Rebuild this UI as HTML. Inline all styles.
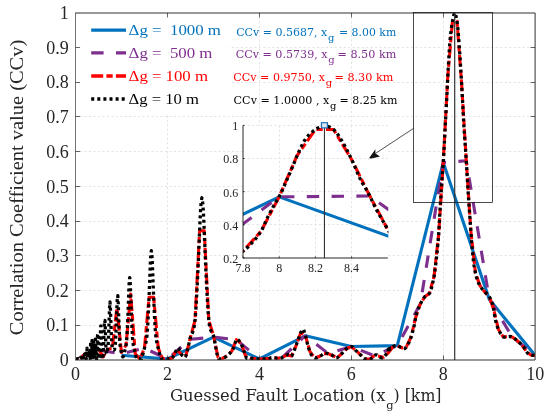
<!DOCTYPE html><html><head><meta charset="utf-8"><style>html,body{margin:0;padding:0;background:#fff;}svg{display:block;}</style></head><body><svg width="550" height="419" viewBox="0 0 550 419">
<defs><clipPath id="cm"><rect x="75.5" y="12.6" width="459.4" height="347.5"/></clipPath><clipPath id="ci"><rect x="243.0" y="118" width="145.3" height="140.0"/></clipPath></defs>
<rect width="550" height="419" fill="#fff"/>
<g stroke="#e4e4e4" stroke-width="1" stroke-dasharray="2.2 2.27" fill="none"><line x1="167.50" y1="12.6" x2="167.50" y2="360"/><line x1="259.50" y1="12.6" x2="259.50" y2="360"/><line x1="351.50" y1="12.6" x2="351.50" y2="360"/><line x1="443.50" y1="12.6" x2="443.50" y2="360"/><line x1="75.5" y1="325.50" x2="535" y2="325.50"/><line x1="75.5" y1="290.50" x2="535" y2="290.50"/><line x1="75.5" y1="255.50" x2="535" y2="255.50"/><line x1="75.5" y1="221.50" x2="535" y2="221.50"/><line x1="75.5" y1="186.50" x2="535" y2="186.50"/><line x1="75.5" y1="151.50" x2="535" y2="151.50"/><line x1="75.5" y1="116.50" x2="535" y2="116.50"/><line x1="75.5" y1="82.50" x2="535" y2="82.50"/><line x1="75.5" y1="47.50" x2="535" y2="47.50"/></g>
<g clip-path="url(#cm)" fill="none" stroke-linejoin="round">
<polyline points="121.47,355.24 167.44,359.00 213.41,337.17 259.38,359.00 305.35,335.78 351.32,346.54 397.29,345.62 443.26,162.53 489.23,299.31 535.20,355.54" stroke="#0072BD" stroke-width="3.1"/>
<polyline points="98.48,350.03 121.47,353.85 144.45,348.17 167.44,359.00 190.43,339.26 213.41,337.17 236.39,339.61 259.38,359.00 282.37,357.43 305.35,335.47" stroke="#7E2F8E" stroke-width="3.1" stroke-dasharray="12.4 12.4" stroke-dashoffset="20.84"/>
<polyline points="305.35,335.47 328.33,353.66 351.32,346.54 374.31,355.78 397.29,345.62 420.27,304.12 443.26,162.53" stroke="#7E2F8E" stroke-width="3.1" stroke-dasharray="12.4 12.4" stroke-dashoffset="10.75"/>
<polyline points="443.26,162.53 466.25,160.73 489.23,298.61 512.21,337.01 535.20,355.54" stroke="#7E2F8E" stroke-width="3.1" stroke-dasharray="12.4 12.4" stroke-dashoffset="9.60"/>
<polyline points="80.10,358.51 84.69,354.09 89.29,353.49 93.89,347.00 98.48,348.74 103.08,356.93 107.68,349.17 112.28,348.47 116.87,307.85 121.47,352.56 126.07,344.95 130.66,294.15 135.26,353.64 139.86,359.00 144.45,348.17 149.05,297.27 153.65,297.27 158.25,348.17 162.84,359.00 167.44,359.00 172.04,358.14 176.63,349.66 181.23,354.20 185.83,355.87 190.43,337.34 195.02,320.30 199.62,230.81 204.22,230.81 208.81,320.30 213.41,335.26 218.01,357.26 222.60,358.31 227.20,355.65 231.80,351.05 236.39,339.61 240.99,343.48 245.59,355.85 250.19,358.31 254.78,358.53 259.38,359.00 263.98,359.00 268.57,358.64 273.17,357.64 277.77,358.20 282.37,357.43 286.96,354.91 291.56,356.01 296.16,345.34 300.75,332.70 305.35,335.47 309.95,351.63 314.54,357.73 319.14,356.62 323.74,353.57 328.33,353.66 332.93,355.79 337.53,357.50 342.13,353.26 346.72,348.66 351.32,346.54 355.92,350.59 360.51,354.85 365.11,359.00 369.71,359.00 374.31,355.78 378.90,356.22 383.50,357.31 388.10,353.12 392.69,346.97 397.29,345.62 401.89,347.97 406.48,346.71 411.08,337.01 415.68,317.46 420.27,304.12 424.87,296.72 429.47,293.26 434.07,276.30 438.66,234.43 443.26,162.22 447.86,75.27 452.45,21.64 457.05,21.39 461.65,84.27 466.25,160.42 470.84,230.97 475.44,272.98 480.04,285.81 484.63,291.85 489.23,296.72 493.83,310.01 498.42,329.48 503.02,336.59 507.62,336.81 512.21,337.01 516.81,340.31 521.41,344.54 526.01,350.74 530.60,354.89 535.20,355.54" stroke="#FF0000" stroke-width="3.1" stroke-dasharray="12 3.2 6.3 3.2"/>
<polyline points="75.96,358.98 76.42,358.97 76.88,358.84 77.34,358.98 77.80,358.58 78.26,358.79 78.72,358.99 79.18,358.09 79.64,358.85 80.10,358.51 80.56,357.36 81.02,357.45 81.48,358.02 81.94,356.26 82.40,355.72 82.86,358.03 83.31,357.23 83.77,358.91 84.23,356.25 84.69,354.09 85.15,353.92 85.61,356.24 86.07,358.93 86.53,357.32 86.99,348.18 87.45,358.18 87.91,353.19 88.37,353.23 88.83,354.98 89.29,353.49 89.75,350.02 90.21,358.35 90.67,341.57 91.13,357.81 91.59,354.51 92.05,340.45 92.51,357.22 92.97,357.31 93.43,340.30 93.89,347.00 94.35,358.85 94.81,355.70 95.27,339.25 95.73,340.66 96.19,355.98 96.65,358.97 97.11,351.94 97.57,335.15 98.03,333.54 98.48,348.74 98.94,358.39 99.40,358.71 99.86,351.10 100.32,334.88 100.78,325.78 101.24,333.14 101.70,348.21 102.16,357.55 102.62,359.00 103.08,356.93 103.54,347.22 104.00,332.26 104.46,321.00 104.92,320.42 105.38,330.11 105.84,346.11 106.30,353.44 106.76,353.57 107.22,351.67 107.68,349.17 108.14,344.71 108.60,335.32 109.06,322.74 109.52,308.38 109.98,301.91 110.44,308.38 110.90,322.74 111.36,335.32 111.82,344.71 112.28,348.47 112.74,349.52 113.20,349.87 113.66,350.03 114.11,349.89 114.57,349.35 115.03,346.53 115.49,341.39 115.95,332.31 116.41,320.96 116.87,307.85 117.33,297.19 117.79,295.61 118.25,303.32 118.71,316.69 119.17,328.76 119.63,338.77 120.09,345.23 120.55,348.53 121.01,350.73 121.47,352.56 121.93,354.56 122.39,356.33 122.85,356.78 123.31,356.50 123.77,354.92 124.23,353.09 124.69,351.12 125.15,349.29 125.61,347.40 126.07,344.95 126.53,341.54 126.99,335.63 127.45,326.60 127.91,315.86 128.37,303.53 128.83,290.31 129.28,280.64 129.74,277.71 130.20,282.67 130.66,294.15 131.12,307.19 131.58,319.10 132.04,329.39 132.50,337.67 132.96,342.68 133.42,345.72 133.88,347.98 134.34,349.80 134.80,351.68 135.26,353.64 135.72,355.38 136.18,356.93 136.64,358.30 137.10,359.00 137.56,359.00 138.02,359.00 138.48,359.00 138.94,359.00 139.40,359.00 139.86,359.00 140.32,359.00 140.78,359.00 141.24,359.00 141.70,357.83 142.16,356.52 142.62,355.10 143.08,353.58 143.54,351.89 144.00,350.03 144.45,348.17 144.91,346.45 145.37,344.73 145.83,342.75 146.29,340.35 146.75,337.34 147.21,333.01 147.67,326.51 148.13,317.84 148.59,308.10 149.05,297.27 149.51,285.35 149.97,272.90 150.43,260.99 150.89,253.95 151.35,250.70 151.81,253.95 152.27,260.99 152.73,272.90 153.19,285.35 153.65,297.27 154.11,308.10 154.57,317.84 155.03,326.51 155.49,333.01 155.95,337.34 156.41,340.35 156.87,342.75 157.33,344.73 157.79,346.45 158.25,348.17 158.71,350.03 159.17,351.89 159.63,353.58 160.08,355.10 160.54,356.52 161.00,357.83 161.46,359.00 161.92,359.00 162.38,359.00 162.84,359.00 163.30,359.00 163.76,359.00 164.22,359.00 164.68,359.00 165.14,359.00 165.60,359.00 166.06,359.00 166.52,359.00 166.98,359.00 167.44,359.00 167.90,359.00 168.36,359.00 168.82,359.00 169.28,359.00 169.74,359.00 170.20,359.00 170.66,359.00 171.12,358.89 171.58,358.59 172.04,358.14 172.50,357.57 172.96,356.92 173.42,356.23 173.88,355.52 174.34,354.85 174.80,354.05 175.25,353.04 175.71,351.90 176.17,350.74 176.63,349.66 177.09,348.76 177.55,348.15 178.01,347.93 178.47,348.17 178.93,348.84 179.39,349.79 179.85,350.93 180.31,352.12 180.77,353.25 181.23,354.20 181.69,354.85 182.15,355.30 182.61,355.75 183.07,356.18 183.53,356.57 183.99,356.91 184.45,357.20 184.91,357.42 185.37,356.89 185.83,355.87 186.29,354.61 186.75,353.09 187.21,351.35 187.67,349.46 188.13,347.48 188.59,345.39 189.05,343.23 189.51,341.10 189.97,339.10 190.43,337.34 190.88,335.94 191.34,334.86 191.80,333.95 192.26,333.06 192.72,332.04 193.18,330.80 193.64,329.23 194.10,327.17 194.56,324.34 195.02,320.30 195.48,314.88 195.94,308.31 196.40,300.46 196.86,292.12 197.32,283.22 197.78,273.73 198.24,263.66 198.70,252.98 199.16,241.96 199.62,230.81 200.08,219.48 200.54,210.51 201.00,204.11 201.46,200.13 201.92,197.76 202.38,200.13 202.84,204.11 203.30,210.51 203.76,219.48 204.22,230.81 204.68,241.96 205.14,252.98 205.60,263.66 206.05,273.73 206.51,283.22 206.97,292.12 207.43,300.46 207.89,308.31 208.35,314.88 208.81,320.30 209.27,324.28 209.73,326.95 210.19,328.78 210.65,330.07 211.11,331.01 211.57,331.72 212.03,332.32 212.49,333.00 212.95,333.92 213.41,335.26 213.87,337.12 214.33,339.38 214.79,341.90 215.25,344.53 215.71,347.13 216.17,349.63 216.63,351.99 217.09,354.11 217.55,355.90 218.01,357.26 218.47,358.32 218.93,358.96 219.39,358.92 219.85,358.86 220.31,358.79 220.77,358.71 221.22,358.62 221.68,358.52 222.14,358.41 222.60,358.31 223.06,358.18 223.52,358.01 223.98,357.81 224.44,357.57 224.90,357.30 225.36,357.01 225.82,356.70 226.28,356.36 226.74,356.01 227.20,355.65 227.66,355.27 228.12,354.89 228.58,354.50 229.04,354.10 229.50,353.67 229.96,353.22 230.42,352.73 230.88,352.21 231.34,351.65 231.80,351.05 232.26,350.40 232.72,349.71 233.18,348.96 233.64,347.96 234.10,346.58 234.56,345.00 235.02,343.35 235.48,341.80 235.94,340.50 236.39,339.61 236.85,339.28 237.31,339.36 237.77,339.58 238.23,339.93 238.69,340.38 239.15,340.91 239.61,341.49 240.07,342.11 240.53,342.74 240.99,343.48 241.45,344.43 241.91,345.53 242.37,346.75 242.83,348.03 243.29,349.31 243.75,350.57 244.21,351.73 244.67,352.99 245.13,354.42 245.59,355.85 246.05,357.10 246.51,357.97 246.97,358.31 247.43,358.31 247.89,358.31 248.35,358.31 248.81,358.31 249.27,358.31 249.73,358.31 250.19,358.31 250.65,358.31 251.11,358.31 251.57,358.31 252.02,358.31 252.48,358.31 252.94,358.34 253.40,358.37 253.86,358.41 254.32,358.47 254.78,358.53 255.24,358.59 255.70,358.65 256.16,358.72 256.62,358.78 257.08,358.84 257.54,358.89 258.00,358.93 258.46,358.97 258.92,358.99 259.38,359.00 259.84,359.00 260.30,359.00 260.76,359.00 261.22,359.00 261.68,359.00 262.14,359.00 262.60,359.00 263.06,359.00 263.52,359.00 263.98,359.00 264.44,359.00 264.90,359.00 265.36,359.00 265.82,359.00 266.28,359.00 266.74,359.00 267.19,358.97 267.65,358.90 268.11,358.78 268.57,358.64 269.03,358.48 269.49,358.31 269.95,358.14 270.41,357.97 270.87,357.83 271.33,357.72 271.79,357.64 272.25,357.61 272.71,357.62 273.17,357.64 273.63,357.68 274.09,357.72 274.55,357.78 275.01,357.83 275.47,357.90 275.93,357.96 276.39,358.03 276.85,358.09 277.31,358.15 277.77,358.20 278.23,358.24 278.69,358.28 279.15,358.30 279.61,358.31 280.07,358.28 280.53,358.19 280.99,358.05 281.45,357.87 281.91,357.66 282.37,357.43 282.82,357.18 283.28,356.93 283.74,356.68 284.20,356.45 284.66,356.23 285.12,356.00 285.58,355.73 286.04,355.45 286.50,355.16 286.96,354.91 287.42,354.70 287.88,354.55 288.34,354.50 288.80,354.63 289.26,354.95 289.72,355.37 290.18,355.78 290.64,356.10 291.10,356.23 291.56,356.01 292.02,355.41 292.48,354.53 292.94,353.46 293.40,352.28 293.86,351.10 294.32,350.00 294.78,348.93 295.24,347.79 295.70,346.59 296.16,345.34 296.62,344.06 297.08,342.77 297.54,341.47 297.99,340.19 298.45,338.93 298.91,337.63 299.37,336.27 299.83,334.94 300.29,333.72 300.75,332.70 301.21,331.77 301.67,330.84 302.13,330.03 302.59,329.46 303.05,329.24 303.51,329.66 303.97,330.74 304.43,332.23 304.89,333.89 305.35,335.47 305.81,337.07 306.27,338.90 306.73,340.85 307.19,342.83 307.65,344.74 308.11,346.47 308.57,347.93 309.03,349.20 309.49,350.45 309.95,351.63 310.41,352.74 310.87,353.74 311.33,354.61 311.79,355.34 312.25,355.88 312.71,356.33 313.16,356.76 313.62,357.14 314.08,357.48 314.54,357.73 315.00,357.90 315.46,357.96 315.92,357.93 316.38,357.85 316.84,357.72 317.30,357.55 317.76,357.34 318.22,357.12 318.68,356.87 319.14,356.62 319.60,356.37 320.06,356.12 320.52,355.88 320.98,355.62 321.44,355.31 321.90,354.96 322.36,354.59 322.82,354.22 323.28,353.87 323.74,353.57 324.20,353.33 324.66,353.17 325.12,353.12 325.58,353.13 326.04,353.17 326.50,353.23 326.96,353.31 327.42,353.41 327.88,353.53 328.33,353.66 328.79,353.81 329.25,353.97 329.71,354.13 330.17,354.31 330.63,354.48 331.09,354.67 331.55,354.85 332.01,355.08 332.47,355.40 332.93,355.79 333.39,356.20 333.85,356.63 334.31,357.04 334.77,357.40 335.23,357.69 335.69,357.89 336.15,357.96 336.61,357.91 337.07,357.75 337.53,357.50 337.99,357.19 338.45,356.81 338.91,356.39 339.37,355.95 339.83,355.48 340.29,355.02 340.75,354.57 341.21,354.15 341.67,353.73 342.13,353.26 342.59,352.75 343.05,352.23 343.51,351.69 343.96,351.16 344.42,350.64 344.88,350.15 345.34,349.70 345.80,349.30 346.26,348.96 346.72,348.66 347.18,348.35 347.64,348.05 348.10,347.75 348.56,347.47 349.02,347.22 349.48,346.99 349.94,346.81 350.40,346.66 350.86,346.57 351.32,346.54 351.78,346.61 352.24,346.81 352.70,347.12 353.16,347.51 353.62,347.97 354.08,348.48 354.54,349.01 355.00,349.56 355.46,350.09 355.92,350.59 356.38,351.04 356.84,351.46 357.30,351.88 357.76,352.30 358.22,352.73 358.68,353.15 359.13,353.58 359.59,354.00 360.05,354.43 360.51,354.85 360.97,355.30 361.43,355.81 361.89,356.36 362.35,356.91 362.81,357.45 363.27,357.94 363.73,358.37 364.19,358.70 364.65,358.92 365.11,359.00 365.57,359.00 366.03,359.00 366.49,359.00 366.95,359.00 367.41,359.00 367.87,359.00 368.33,359.00 368.79,359.00 369.25,359.00 369.71,359.00 370.17,359.00 370.63,358.93 371.09,358.73 371.55,358.44 372.01,358.06 372.47,357.63 372.93,357.16 373.39,356.68 373.85,356.22 374.31,355.78 374.76,355.41 375.22,355.11 375.68,354.92 376.14,354.85 376.60,354.90 377.06,355.05 377.52,355.27 377.98,355.55 378.44,355.87 378.90,356.22 379.36,356.58 379.82,356.93 380.28,357.26 380.74,357.54 381.20,357.76 381.66,357.91 382.12,357.96 382.58,357.88 383.04,357.65 383.50,357.31 383.96,356.87 384.42,356.36 384.88,355.82 385.34,355.26 385.80,354.72 386.26,354.21 386.72,353.77 387.18,353.43 387.64,353.20 388.10,353.12 388.56,346.17 389.02,347.02 389.48,348.17 389.93,349.07 390.39,349.15 390.85,348.65 391.31,348.18 391.77,347.74 392.23,347.34 392.69,346.97 393.15,346.64 393.61,346.35 394.07,346.10 394.53,345.89 394.99,345.72 395.45,345.60 395.91,345.53 396.37,345.50 396.83,345.54 397.29,345.62 397.75,345.76 398.21,345.94 398.67,346.15 399.13,346.39 399.59,346.65 400.05,346.92 400.51,347.20 400.97,347.47 401.43,347.73 401.89,347.97 402.35,348.18 402.81,348.36 403.27,348.50 403.73,348.59 404.19,348.62 404.65,348.53 405.10,348.27 405.56,347.87 406.02,347.34 406.48,346.71 406.94,346.00 407.40,345.22 407.86,344.40 408.32,343.57 408.78,342.74 409.24,341.84 409.70,340.81 410.16,339.65 410.62,338.38 411.08,337.01 411.54,335.54 412.00,333.99 412.46,332.37 412.92,330.68 413.38,328.94 413.84,327.17 414.30,325.10 414.76,322.65 415.22,320.04 415.68,317.46 416.14,315.15 416.60,313.33 417.06,311.87 417.52,310.52 417.98,309.26 418.44,308.10 418.90,307.01 419.36,305.99 419.82,305.03 420.27,304.12 420.73,303.24 421.19,302.39 421.65,301.56 422.11,300.74 422.57,299.95 423.03,299.19 423.49,298.48 423.95,297.82 424.41,297.23 424.87,296.72 425.33,296.29 425.79,295.94 426.25,295.64 426.71,295.37 427.17,295.12 427.63,294.85 428.09,294.55 428.55,294.20 429.01,293.78 429.47,293.26 429.93,292.53 430.39,291.52 430.85,290.25 431.31,288.75 431.77,287.04 432.23,285.15 432.69,283.11 433.15,280.93 433.61,278.66 434.07,276.30 434.53,273.59 434.99,270.33 435.45,266.66 435.90,262.72 436.36,258.66 436.82,254.51 437.28,250.16 437.74,245.45 438.20,240.26 438.66,234.43 439.12,227.11 439.58,218.52 440.04,210.21 440.50,202.62 440.96,195.20 441.42,188.01 441.88,181.09 442.34,174.65 442.80,168.69 443.26,162.22 443.72,154.65 444.18,146.31 444.64,137.60 445.10,128.88 445.56,120.36 446.02,111.77 446.48,103.01 446.94,93.77 447.40,84.19 447.86,75.27 448.32,66.97 448.78,58.80 449.24,51.15 449.70,44.40 450.16,38.94 450.62,34.51 451.07,30.58 451.53,27.14 451.99,24.16 452.45,21.64 452.91,19.26 453.37,16.93 453.83,14.93 454.29,13.52 454.75,12.70 455.21,13.47 455.67,14.79 456.13,16.73 456.59,19.08 457.05,21.64 457.51,25.03 457.97,29.72 458.43,35.32 458.89,41.42 459.35,47.59 459.81,54.04 460.27,61.12 460.73,68.63 461.19,76.41 461.65,84.27 462.11,92.51 462.57,101.29 463.03,110.23 463.49,118.92 463.95,126.97 464.41,133.96 464.87,140.02 465.33,146.43 465.79,153.25 466.25,160.42 466.70,168.27 467.16,176.49 467.62,184.26 468.08,191.27 468.54,197.89 469.00,204.35 469.46,210.91 469.92,217.68 470.38,224.46 470.84,230.97 471.30,237.37 471.76,243.63 472.22,249.28 472.68,254.00 473.14,258.27 473.60,262.14 474.06,265.53 474.52,268.34 474.98,270.76 475.44,272.98 475.90,275.01 476.36,276.84 476.82,278.48 477.28,279.91 477.74,281.15 478.20,282.23 478.66,283.24 479.12,284.16 479.58,285.01 480.04,285.81 480.50,286.55 480.96,287.25 481.42,287.92 481.87,288.56 482.33,289.18 482.79,289.80 483.25,290.38 483.71,290.91 484.17,291.39 484.63,291.85 485.09,292.27 485.55,292.69 486.01,293.10 486.47,293.52 486.93,293.95 487.39,294.41 487.85,294.91 488.31,295.45 488.77,296.05 489.23,296.72 489.69,297.46 490.15,298.27 490.61,299.18 491.07,300.19 491.53,301.30 491.99,302.53 492.45,303.88 492.91,305.37 493.37,307.36 493.83,310.01 494.29,313.00 494.75,316.03 495.21,318.78 495.67,320.94 496.13,322.64 496.59,324.25 497.04,325.74 497.50,327.11 497.96,328.36 498.42,329.48 498.88,330.47 499.34,331.32 499.80,332.09 500.26,332.87 500.72,333.62 501.18,334.34 501.64,335.01 502.10,335.62 502.56,336.15 503.02,336.59 503.48,336.92 503.94,337.13 504.40,337.20 504.86,337.19 505.32,337.16 505.78,337.11 506.24,337.04 506.70,336.97 507.16,336.89 507.62,336.81 508.08,336.74 508.54,336.66 509.00,336.60 509.46,336.55 509.92,336.52 510.38,336.51 510.84,336.54 511.30,336.64 511.76,336.80 512.21,337.01 512.67,337.26 513.13,337.55 513.59,337.86 514.05,338.20 514.51,338.56 514.97,338.92 515.43,339.28 515.89,339.63 516.35,339.97 516.81,340.31 517.27,340.66 517.73,341.04 518.19,341.43 518.65,341.83 519.11,342.26 519.57,342.69 520.03,343.14 520.49,343.59 520.95,344.06 521.41,344.54 521.87,345.03 522.33,345.53 522.79,346.03 523.25,346.54 523.71,347.10 524.17,347.75 524.63,348.45 525.09,349.20 525.55,349.97 526.01,350.74 526.47,351.50 526.93,352.21 527.39,352.87 527.84,353.45 528.30,353.92 528.76,354.28 529.22,354.50 529.68,354.64 530.14,354.77 530.60,354.89 531.06,355.01 531.52,355.11 531.98,355.21 532.44,355.29 532.90,355.36 533.36,355.42 533.82,355.47 534.28,355.51 534.74,355.53 535.20,355.54" stroke="#000" stroke-width="3.3" stroke-dasharray="3 3.1"/>
</g>
<line x1="454.7" y1="12.6" x2="454.7" y2="360" stroke="#333" stroke-width="1.2"/>
<rect x="76.5" y="13.5" width="152.5" height="100.5" fill="#fff"/>
<rect x="243.0" y="125.3" width="144.8" height="132.7" fill="#fff"/>
<path d="M75.5,13 H535.1 V360 H75.5" fill="none" stroke="#262626" stroke-width="0.95"/>
<path d="M75.5,12.6 V360.4" fill="none" stroke="#262626" stroke-width="0.65"/>
<g stroke="#262626" stroke-width="0.7" fill="none"><line x1="167.50" y1="360" x2="167.50" y2="355.4"/><line x1="167.50" y1="13" x2="167.50" y2="17.4"/><line x1="259.50" y1="360" x2="259.50" y2="355.4"/><line x1="259.50" y1="13" x2="259.50" y2="17.4"/><line x1="351.50" y1="360" x2="351.50" y2="355.4"/><line x1="351.50" y1="13" x2="351.50" y2="17.4"/><line x1="443.50" y1="360" x2="443.50" y2="355.4"/><line x1="443.50" y1="13" x2="443.50" y2="17.4"/><line x1="75.5" y1="325.50" x2="80.1" y2="325.50"/><line x1="535.1" y1="325.50" x2="530.5" y2="325.50"/><line x1="75.5" y1="290.50" x2="80.1" y2="290.50"/><line x1="535.1" y1="290.50" x2="530.5" y2="290.50"/><line x1="75.5" y1="255.50" x2="80.1" y2="255.50"/><line x1="535.1" y1="255.50" x2="530.5" y2="255.50"/><line x1="75.5" y1="221.50" x2="80.1" y2="221.50"/><line x1="535.1" y1="221.50" x2="530.5" y2="221.50"/><line x1="75.5" y1="186.50" x2="80.1" y2="186.50"/><line x1="535.1" y1="186.50" x2="530.5" y2="186.50"/><line x1="75.5" y1="151.50" x2="80.1" y2="151.50"/><line x1="535.1" y1="151.50" x2="530.5" y2="151.50"/><line x1="75.5" y1="116.50" x2="80.1" y2="116.50"/><line x1="535.1" y1="116.50" x2="530.5" y2="116.50"/><line x1="75.5" y1="82.50" x2="80.1" y2="82.50"/><line x1="535.1" y1="82.50" x2="530.5" y2="82.50"/><line x1="75.5" y1="47.50" x2="80.1" y2="47.50"/><line x1="535.1" y1="47.50" x2="530.5" y2="47.50"/></g>
<rect x="413.5" y="12.6" width="79" height="189.9" fill="none" stroke="#111" stroke-width="0.75"/>
<line x1="413.35" y1="128.5" x2="375.4" y2="153.5" stroke="#222" stroke-width="0.8"/>
<path d="M368.3,159.3 L375.4,149.3 L375.4,153.6 L380.0,156.5 Z" fill="#111"/>
<g stroke="#e4e4e4" stroke-width="1" stroke-dasharray="2.2 2.27" fill="none"><line x1="279.50" y1="125.3" x2="279.50" y2="258.0"/><line x1="315.50" y1="125.3" x2="315.50" y2="258.0"/><line x1="351.50" y1="125.3" x2="351.50" y2="258.0"/><line x1="243.0" y1="224.50" x2="387.8" y2="224.50"/><line x1="243.0" y1="191.50" x2="387.8" y2="191.50"/><line x1="243.0" y1="158.50" x2="387.8" y2="158.50"/><line x1="243.0" y1="125.50" x2="387.8" y2="125.50"/></g>
<g clip-path="url(#ci)" fill="none" stroke-linejoin="round">
<polyline points="98.20,284.26 279.20,196.84 460.20,262.15" stroke="#0072BD" stroke-width="3.1"/>
<polyline points="188.70,264.45 279.20,196.84 369.70,195.98 460.20,261.82" stroke="#7E2F8E" stroke-width="3.1" stroke-dasharray="12.4 12.4" stroke-dashoffset="8.24"/>
<polyline points="224.90,259.26 243.00,251.16 261.10,231.17 279.20,196.69 297.30,155.18 315.40,129.57 333.50,129.45 351.60,159.47 369.70,195.83 387.80,229.52 405.90,249.58" stroke="#FF0000" stroke-width="3.1" stroke-dasharray="12 3.2 6.3 3.2"/>
<polyline points="224.90,259.26 226.71,258.91 228.52,258.43 230.33,257.82 232.14,257.11 233.95,256.29 235.76,255.39 237.57,254.41 239.38,253.37 241.19,252.29 243.00,251.16 244.81,249.87 246.62,248.31 248.43,246.56 250.24,244.68 252.05,242.74 253.86,240.76 255.67,238.68 257.48,236.43 259.29,233.95 261.10,231.17 262.91,227.68 264.72,223.58 266.53,219.61 268.34,215.98 270.15,212.44 271.96,209.01 273.77,205.70 275.58,202.63 277.39,199.78 279.20,196.69 281.01,193.08 282.82,189.10 284.63,184.93 286.44,180.77 288.25,176.71 290.06,172.61 291.87,168.42 293.68,164.01 295.49,159.43 297.30,155.18 299.11,151.21 300.92,147.31 302.73,143.66 304.54,140.44 306.35,137.83 308.16,135.71 309.97,133.84 311.78,132.19 313.59,130.77 315.40,129.57 317.21,128.43 319.02,127.32 320.83,126.36 322.64,125.69 324.45,125.30 326.26,125.67 328.07,126.30 329.88,127.22 331.69,128.35 333.50,129.57 335.31,131.19 337.12,133.43 338.93,136.10 340.74,139.01 342.55,141.96 344.36,145.04 346.17,148.42 347.98,152.01 349.79,155.72 351.60,159.47 353.41,163.41 355.22,167.60 357.03,171.87 358.84,176.02 360.65,179.86 362.46,183.20 364.27,186.09 366.08,189.15 367.89,192.41 369.70,195.83 371.51,199.58 373.32,203.51 375.13,207.22 376.94,210.56 378.75,213.72 380.56,216.81 382.37,219.94 384.18,223.17 385.99,226.41 387.80,229.52 389.61,232.57 391.42,235.56 393.23,238.26 395.04,240.51 396.85,242.55 398.66,244.40 400.47,246.02 402.28,247.36 404.09,248.52 405.90,249.58" stroke="#000" stroke-width="3.3" stroke-dasharray="3 3.1"/>
</g>
<line x1="324.45" y1="127.30" x2="324.45" y2="258.0" stroke="#333" stroke-width="1.1"/>
<rect x="321.45" y="122.70" width="6" height="5.2" fill="#d4e6f4" stroke="#1f6fb2" stroke-width="1.2"/>
<g stroke="#262626" stroke-width="1.0" fill="none"><path d="M243.0,125.3 V258.0 H387.8"/><line x1="243.0" y1="258.00" x2="244.5" y2="258.00"/><line x1="243.0" y1="224.82" x2="244.5" y2="224.82"/><line x1="243.0" y1="191.65" x2="244.5" y2="191.65"/><line x1="243.0" y1="158.47" x2="244.5" y2="158.47"/><line x1="243.0" y1="125.30" x2="244.5" y2="125.30"/><line x1="243.00" y1="258.0" x2="243.00" y2="256.5"/><line x1="279.20" y1="258.0" x2="279.20" y2="256.5"/><line x1="315.40" y1="258.0" x2="315.40" y2="256.5"/><line x1="351.60" y1="258.0" x2="351.60" y2="256.5"/></g>
<text x="68.8" y="366.20" font-family="'Liberation Serif', serif" font-size="18" fill="#262626" text-anchor="end">0</text>
<text x="68.8" y="331.46" font-family="'Liberation Serif', serif" font-size="18" fill="#262626" text-anchor="end">0.1</text>
<text x="68.8" y="296.72" font-family="'Liberation Serif', serif" font-size="18" fill="#262626" text-anchor="end">0.2</text>
<text x="68.8" y="261.98" font-family="'Liberation Serif', serif" font-size="18" fill="#262626" text-anchor="end">0.3</text>
<text x="68.8" y="227.24" font-family="'Liberation Serif', serif" font-size="18" fill="#262626" text-anchor="end">0.4</text>
<text x="68.8" y="192.50" font-family="'Liberation Serif', serif" font-size="18" fill="#262626" text-anchor="end">0.5</text>
<text x="68.8" y="157.76" font-family="'Liberation Serif', serif" font-size="18" fill="#262626" text-anchor="end">0.6</text>
<text x="68.8" y="123.02" font-family="'Liberation Serif', serif" font-size="18" fill="#262626" text-anchor="end">0.7</text>
<text x="68.8" y="88.28" font-family="'Liberation Serif', serif" font-size="18" fill="#262626" text-anchor="end">0.8</text>
<text x="68.8" y="53.54" font-family="'Liberation Serif', serif" font-size="18" fill="#262626" text-anchor="end">0.9</text>
<text x="68.8" y="18.80" font-family="'Liberation Serif', serif" font-size="18" fill="#262626" text-anchor="end">1</text>
<text x="75.50" y="379.9" font-family="'Liberation Serif', serif" font-size="18" fill="#262626" text-anchor="middle">0</text>
<text x="167.44" y="379.9" font-family="'Liberation Serif', serif" font-size="18" fill="#262626" text-anchor="middle">2</text>
<text x="259.38" y="379.9" font-family="'Liberation Serif', serif" font-size="18" fill="#262626" text-anchor="middle">4</text>
<text x="351.32" y="379.9" font-family="'Liberation Serif', serif" font-size="18" fill="#262626" text-anchor="middle">6</text>
<text x="443.26" y="379.9" font-family="'Liberation Serif', serif" font-size="18" fill="#262626" text-anchor="middle">8</text>
<text x="535.20" y="379.9" font-family="'Liberation Serif', serif" font-size="18" fill="#262626" text-anchor="middle">10</text>
<text x="238.2" y="130.30" font-family="'Liberation Serif', serif" font-size="12" fill="#262626" text-anchor="end">1</text>
<text x="238.2" y="163.47" font-family="'Liberation Serif', serif" font-size="12" fill="#262626" text-anchor="end">0.8</text>
<text x="238.2" y="196.65" font-family="'Liberation Serif', serif" font-size="12" fill="#262626" text-anchor="end">0.6</text>
<text x="238.2" y="229.82" font-family="'Liberation Serif', serif" font-size="12" fill="#262626" text-anchor="end">0.4</text>
<text x="238.2" y="263.00" font-family="'Liberation Serif', serif" font-size="12" fill="#262626" text-anchor="end">0.2</text>
<text x="243.00" y="272.3" font-family="'Liberation Serif', serif" font-size="12" fill="#262626" text-anchor="middle">7.8</text>
<text x="279.20" y="272.3" font-family="'Liberation Serif', serif" font-size="12" fill="#262626" text-anchor="middle">8</text>
<text x="315.40" y="272.3" font-family="'Liberation Serif', serif" font-size="12" fill="#262626" text-anchor="middle">8.2</text>
<text x="351.60" y="272.3" font-family="'Liberation Serif', serif" font-size="12" fill="#262626" text-anchor="middle">8.4</text>
<text x="170.0" y="401.3" font-family="'DejaVu Serif', serif" font-size="16.0" fill="#262626" xml:space="preserve" textLength="215.5" lengthAdjust="spacingAndGlyphs">Guessed Fault Location (x</text>
<text x="386.2" y="408.8" font-family="'DejaVu Serif', serif" font-size="11.5" fill="#262626" xml:space="preserve">g</text>
<text x="393.5" y="401.3" font-family="'DejaVu Serif', serif" font-size="16.0" fill="#262626" xml:space="preserve" textLength="48.0" lengthAdjust="spacingAndGlyphs">) [km]</text>
<text transform="translate(22.8,335.2) rotate(-90)" font-family="'Liberation Serif', serif" font-size="19.8" fill="#262626" textLength="295.5" lengthAdjust="spacingAndGlyphs">Correlation Coefficient value (CCv)</text>
<line x1="91.2" y1="30.2" x2="126" y2="30.2" stroke="#0072BD" stroke-width="3.3"/>
<text x="128.6" y="35.2" font-family="'Liberation Serif', serif" font-size="13.8" fill="#0072BD" xml:space="preserve" textLength="92.4" lengthAdjust="spacingAndGlyphs">Δg =  1000 m</text>
<line x1="91.2" y1="52.8" x2="126" y2="52.8" stroke="#7E2F8E" stroke-width="3.3" stroke-dasharray="12.4 12.4"/>
<text x="128.6" y="57.8" font-family="'Liberation Serif', serif" font-size="13.8" fill="#7E2F8E" xml:space="preserve" textLength="83.8" lengthAdjust="spacingAndGlyphs">Δg =  500 m</text>
<line x1="91.2" y1="76.0" x2="126" y2="76.0" stroke="#FF0000" stroke-width="3.3" stroke-dasharray="12 3.2 6.3 3.2"/>
<text x="128.6" y="81.0" font-family="'Liberation Serif', serif" font-size="13.8" fill="#FF0000" xml:space="preserve" textLength="79.4" lengthAdjust="spacingAndGlyphs">Δg = 100 m</text>
<line x1="91.2" y1="99.0" x2="126" y2="99.0" stroke="#000" stroke-width="3.3" stroke-dasharray="3 3.1"/>
<text x="128.6" y="104.0" font-family="'Liberation Serif', serif" font-size="13.8" fill="#000" xml:space="preserve" textLength="70.4" lengthAdjust="spacingAndGlyphs">Δg = 10 m</text>
<text x="236.2" y="35.7" font-family="'DejaVu Serif', serif" font-size="11.3" fill="#0072BD" xml:space="preserve" textLength="91.1" lengthAdjust="spacingAndGlyphs">CCv = 0.5687, x</text>
<text x="328.0" y="40.7" font-family="'DejaVu Serif', serif" font-size="10.0" fill="#0072BD" xml:space="preserve">g</text>
<text x="339.0" y="35.7" font-family="'DejaVu Serif', serif" font-size="11.3" fill="#0072BD" xml:space="preserve" textLength="57.3" lengthAdjust="spacingAndGlyphs">= 8.00 km</text>
<text x="235.7" y="58.1" font-family="'DejaVu Serif', serif" font-size="11.3" fill="#7E2F8E" xml:space="preserve" textLength="91.9" lengthAdjust="spacingAndGlyphs">CCv = 0.5739, x</text>
<text x="328.2" y="63.1" font-family="'DejaVu Serif', serif" font-size="10.0" fill="#7E2F8E" xml:space="preserve">g</text>
<text x="337.5" y="58.1" font-family="'DejaVu Serif', serif" font-size="11.3" fill="#7E2F8E" xml:space="preserve" textLength="58.8" lengthAdjust="spacingAndGlyphs">= 8.50 km</text>
<text x="233.3" y="80.7" font-family="'DejaVu Serif', serif" font-size="11.3" fill="#FF0000" xml:space="preserve" textLength="91.8" lengthAdjust="spacingAndGlyphs">CCv = 0.9750, x</text>
<text x="325.7" y="85.7" font-family="'DejaVu Serif', serif" font-size="10.0" fill="#FF0000" xml:space="preserve">g</text>
<text x="334.5" y="80.7" font-family="'DejaVu Serif', serif" font-size="11.3" fill="#FF0000" xml:space="preserve" textLength="58.8" lengthAdjust="spacingAndGlyphs">= 8.30 km</text>
<text x="233.6" y="104.1" font-family="'DejaVu Serif', serif" font-size="11.3" fill="#000" xml:space="preserve" textLength="95.7" lengthAdjust="spacingAndGlyphs">CCv = 1.0000 , x</text>
<text x="329.9" y="109.1" font-family="'DejaVu Serif', serif" font-size="10.0" fill="#000" xml:space="preserve">g</text>
<text x="339.5" y="104.1" font-family="'DejaVu Serif', serif" font-size="11.3" fill="#000" xml:space="preserve" textLength="58.0" lengthAdjust="spacingAndGlyphs">= 8.25 km</text>
</svg></body></html>
